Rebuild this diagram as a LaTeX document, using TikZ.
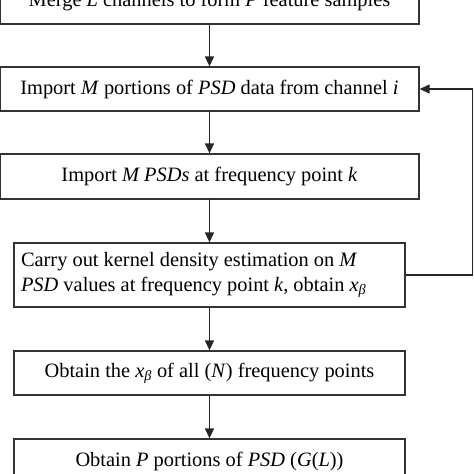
\documentclass[tikz,border=0pt]{standalone}
\usepackage{fontspec}
\setmainfont{Liberation Serif}
\usetikzlibrary{arrows.meta}
\begin{document}
\begin{tikzpicture}[x=1pt,y=-1pt,
  box/.style={draw=black!80,line width=1.3pt,rectangle,inner sep=0pt,font=\fontsize{20.4}{25}\selectfont},
  arr/.style={line width=1.3pt,draw=black!85,-{Triangle[length=10pt,width=9pt]}}]
\useasboundingbox (0,0) rectangle (474,474);
\node[box,minimum width=419pt,minimum height=44pt] (b1) at (209.5,2) {Merge \textit{L} channels to form \textit{P} feature samples};
\node[box,minimum width=419pt,minimum height=44pt] (b2) at (209.5,89) {Import \textit{M} portions of \textit{PSD} data from channel \textit{i}};
\node[box,minimum width=419pt,minimum height=45pt] (b3) at (209.5,176.5) {Import \textit{M PSDs} at frequency point \textit{k}};
\node[box,minimum width=391pt,minimum height=64pt,text width=377pt,align=flush left] (b4) at (209.5,275) {Carry out kernel density estimation on \textit{M}\\\textit{PSD} values at frequency point \textit{k}, obtain \textit{x}\textsubscript{\textit{β}}};
\node[box,minimum width=391pt,minimum height=44pt] (b5) at (209.5,373) {Obtain the \textit{x}\textsubscript{\textit{β}} of all (\textit{N}) frequency points};
\node[box,minimum width=391pt,minimum height=44pt] (b6) at (209.5,461) {Obtain \textit{P} portions of \textit{PSD} (\textit{G}(\textit{L}))};
\coordinate (c1) at (472.5,275);
\coordinate (c2) at (472.5,89);
\draw[arr] (b1) -- (b2);
\draw[arr] (b2) -- (b3);
\draw[arr] (b3) -- (b4);
\draw[arr] (b4) -- (b5);
\draw[arr] (b5) -- (b6);
\draw[arr] (b4.east) -- (c1) -- (c2) -- (b2.east);
\end{tikzpicture}
\end{document}
